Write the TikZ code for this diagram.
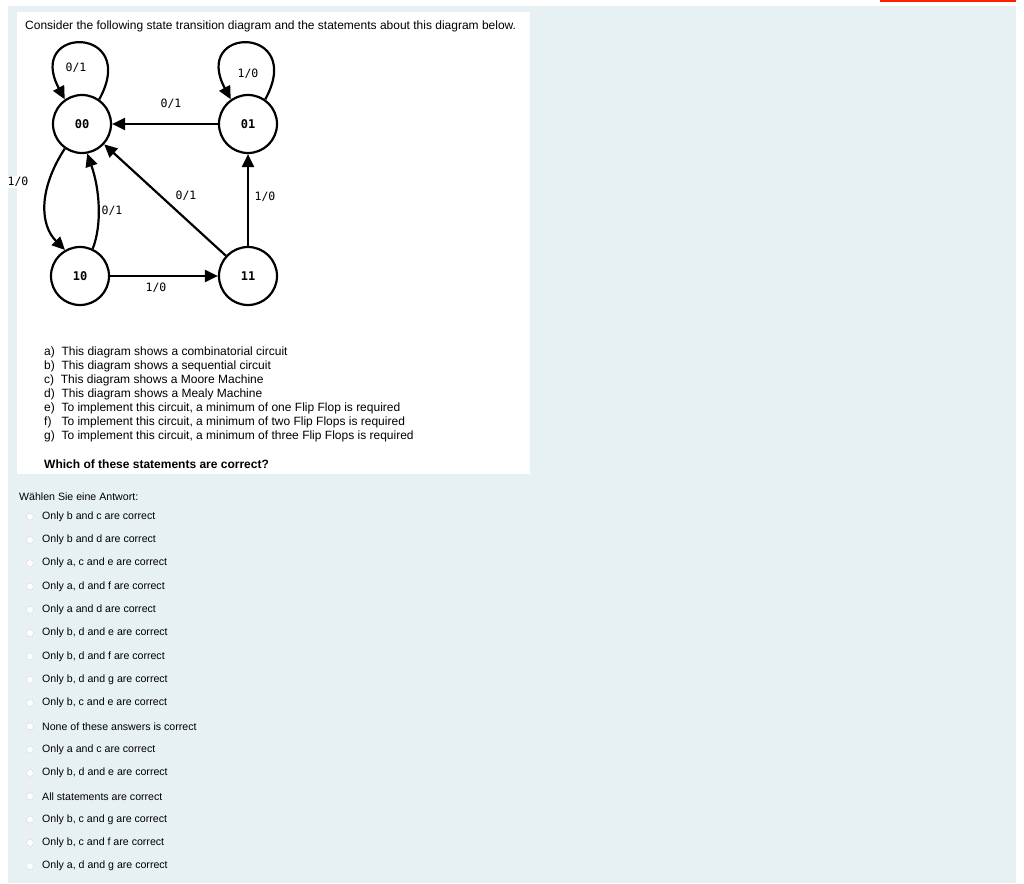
\documentclass[tikz,border=0pt]{standalone}
\usepackage{fontspec}
\setmainfont{Liberation Sans}
\newfontfamily\mono{DejaVu Sans Mono}
\usetikzlibrary{arrows.meta}
\definecolor{bg}{HTML}{E7F0F3}
\begin{document}
\begin{tikzpicture}[x=1pt,y=-1pt,
 st/.style={circle,draw,line width=2.2pt,minimum size=58pt,inner sep=0pt,font=\mono\bfseries\fontsize{12}{12}\selectfont},
 tr/.style={line width=2.2pt,-{Triangle[length=13pt,width=12pt]}},
 lb/.style={font=\mono\fontsize{11.5}{12}\selectfont,inner sep=1pt},
 tx/.style={anchor=west,font=\fontsize{12}{13}\selectfont,inner sep=0pt},
 an/.style={anchor=west,font=\fontsize{10.6}{12}\selectfont,inner sep=0pt},
 rb/.style={circle,draw=gray!30,fill=white,minimum size=7pt,inner sep=0pt}]
\useasboundingbox (0,0) rectangle (1024,883);
\fill[white] (0,0) rectangle (1024,883);
\fill[bg] (8,6) rectangle (1016,883);
\fill[red!75!orange] (880,0) rectangle (1016,2);
\fill[white] (17,12) rectangle (530,474);
\node[tx,font=\fontsize{12}{13}\selectfont] (q) at (25,26) {Consider the following state transition diagram and the statements about this diagram below.};
\node[st] (a) at (82,124) {00};
\node[st] (b) at (248,124) {01};
\node[st] (c) at (80,276) {10};
\node[st] (d) at (248,276) {11};
\draw[tr] (a.55) .. controls (140,25) and (25,25) .. (a.125);
\draw[tr] (b.55) .. controls (306,25) and (191,25) .. (b.125);
\node[lb] (la) at (76,68) {0/1};
\node[lb] (lb1) at (248,74) {1/0};
\draw[tr] (b) -- (a);
\node[lb] (l1) at (171,104) {0/1};
\draw[tr] (a.235) .. controls (38,190) and (40,225) .. (c.120);
\node[lb,fill=white] (l2) at (18,182) {1/0};
\draw[tr] (c.65) .. controls (102,225) and (100,190) .. (a.280);
\node[lb] (l3) at (112,211) {0/1};
\draw[tr] (d) -- (a);
\node[lb] (l4) at (186,196) {0/1};
\draw[tr] (d) -- (b);
\node[lb] (l5) at (265,197) {1/0};
\draw[tr] (c) -- (d);
\node[lb] (l6) at (156,288) {1/0};
\foreach \t [count=\i] in {a)\ \ This diagram shows a combinatorial circuit,
 b)\ \ This diagram shows a sequential circuit,
 c)\ \ This diagram shows a Moore Machine,
 d)\ \ This diagram shows a Mealy Machine,
 {e)\ \ To implement this circuit, a minimum of one Flip Flop is required},
 {f)\ \ \ To implement this circuit, a minimum of two Flip Flops is required},
 {g)\ \ To implement this circuit, a minimum of three Flip Flops is required}}
 \node[tx] (s\i) at (44,338+14*\i) {\t};
\node[tx,font=\bfseries\fontsize{12}{13}\selectfont] (w) at (44,464) {Which of these statements are correct?};
\node[an] (h) at (19,497) {Wählen Sie eine Antwort:};
\foreach \t [count=\i] in {Only b and c are correct,Only b and d are correct,{Only a, c and e are correct},{Only a, d and f are correct},Only a and d are correct,{Only b, d and e are correct},{Only b, d and f are correct},{Only b, d and g are correct},{Only b, c and e are correct},None of these answers is correct,Only a and c are correct,{Only b, d and e are correct},All statements are correct,{Only b, c and g are correct},{Only b, c and f are correct},{Only a, d and g are correct}}{
 \node[rb] (r\i) at (30,493.3+23.3*\i) {};
 \node[an] (o\i) at (42,493.3+23.3*\i) {\t};}
\end{tikzpicture}
\end{document}
